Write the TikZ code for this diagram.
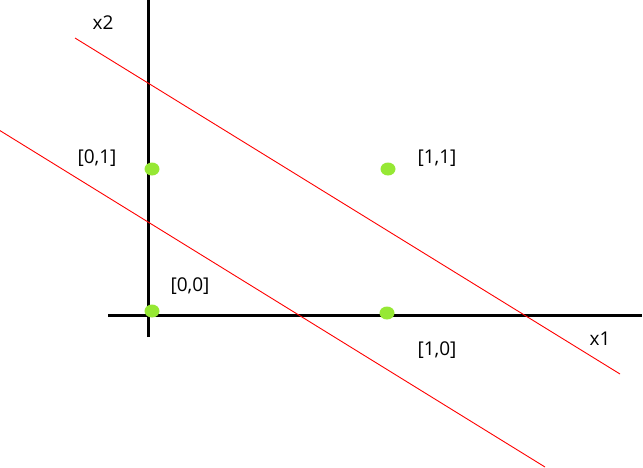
\documentclass[tikz,border=0pt]{standalone}
\usepackage{fontspec}
\usetikzlibrary{shapes.geometric}
\setmainfont{Open Sans}
\begin{document}
\begin{tikzpicture}[x=1pt,y=-1pt,
  axis/.style={line width=3pt,black},
  sep/.style={red,line width=0.9pt},
  pt/.style={ellipse,fill={rgb,255:red,150;green,232;blue,52},minimum width=15pt,minimum height=13pt,inner sep=0pt},
  lbl/.style={inner sep=0pt,font=\fontsize{19}{22}\selectfont}]
\useasboundingbox (0,0) rectangle (643,467);
% axes
\coordinate (ytop) at (148.5,0);
\coordinate (ybot) at (148.5,337);
\coordinate (xl) at (108,315.5);
\coordinate (xr) at (642,315.5);
\draw[axis] (ybot) -- (ytop);
\draw[axis] (xl) -- (xr);
% separating lines
\coordinate (a1) at (75,38);
\coordinate (a2) at (620,374);
\coordinate (b1) at (-1,130);
\coordinate (b2) at (545,467);
\draw[sep] (a1) -- (a2);
\draw[sep] (b1) -- (b2);
% points
\node[pt] (p01) at (152,169) {};
\node[pt] (p11) at (388,169) {};
\node[pt] (p00) at (152,311) {};
\node[pt] (p10) at (387,313) {};
% labels
\node[lbl] (lx2) at (103,23) {x2};
\node[lbl] (lx1) at (600,339) {x1};
\node[lbl] (l01) at (97,158) {[0,1]};
\node[lbl] (l11) at (437,158) {[1,1]};
\node[lbl] (l00) at (190,286) {[0,0]};
\node[lbl] (l10) at (437,350) {[1,0]};
\end{tikzpicture}
\end{document}
